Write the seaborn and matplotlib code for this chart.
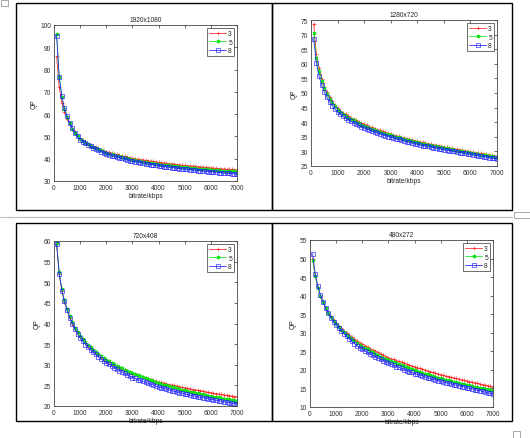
import numpy as np
import pandas as pd
import matplotlib
matplotlib.use("Agg")
import matplotlib.pyplot as plt
import seaborn as sns
from matplotlib.patches import Rectangle

# x grid: one sample every 100 kbps
bitrate = np.arange(100, 7001, 100)
levels = ["3", "5", "8"]

# 1920x1080
hd1080_3 = [86.0, 72.0, 65.0, 61.0, 58.0, 55.6, 53.5, 51.8, 50.3, 49.0,
            48.2, 47.5, 46.8, 46.2, 45.6, 45.1, 44.6, 44.1, 43.6, 43.2,
            42.9, 42.5, 42.2, 41.9, 41.6, 41.3, 41.0, 40.8, 40.5, 40.2,
            40.0, 39.8, 39.6, 39.5, 39.3, 39.1, 38.9, 38.8, 38.6, 38.4,
            38.3, 38.1, 38.0, 37.8, 37.7, 37.6, 37.4, 37.3, 37.1, 37.0,
            36.9, 36.8, 36.7, 36.6, 36.4, 36.3, 36.2, 36.1, 36.0, 35.9,
            35.8, 35.7, 35.6, 35.5, 35.4, 35.3, 35.3, 35.2, 35.1, 35.0]
hd1080_5 = [96.0, 76.5, 67.5, 62.3, 58.8, 55.9, 53.5, 51.6, 50.1, 48.8,
            48.0, 47.2, 46.5, 45.8, 45.2, 44.7, 44.2, 43.7, 43.2, 42.7,
            42.3, 42.0, 41.6, 41.3, 41.0, 40.7, 40.4, 40.1, 39.8, 39.5,
            39.3, 39.1, 38.9, 38.7, 38.5, 38.3, 38.2, 38.0, 37.8, 37.6,
            37.4, 37.3, 37.2, 37.0, 36.9, 36.7, 36.6, 36.5, 36.3, 36.2,
            36.1, 36.0, 35.9, 35.8, 35.6, 35.5, 35.4, 35.3, 35.2, 35.1,
            35.0, 34.9, 34.8, 34.7, 34.6, 34.5, 34.5, 34.4, 34.3, 34.2]
hd1080_8 = [95.2, 76.8, 68.0, 62.6, 59.0, 56.0, 53.6, 51.6, 50.0, 48.6,
            47.7, 46.9, 46.2, 45.5, 44.9, 44.3, 43.7, 43.2, 42.7, 42.2,
            41.8, 41.4, 41.1, 40.7, 40.4, 40.1, 39.8, 39.4, 39.1, 38.8,
            38.6, 38.4, 38.2, 38.0, 37.8, 37.6, 37.4, 37.2, 37.0, 36.8,
            36.6, 36.5, 36.3, 36.2, 36.0, 35.9, 35.7, 35.6, 35.4, 35.3,
            35.2, 35.1, 34.9, 34.8, 34.7, 34.6, 34.5, 34.3, 34.2, 34.1,
            34.0, 33.9, 33.8, 33.7, 33.6, 33.5, 33.4, 33.3, 33.2, 33.1]

# 1280x720
hd720_3 = [73.6, 63.5, 58.5, 54.8, 52.2, 50.2, 48.5, 47.1, 45.9, 44.8,
           44.0, 43.3, 42.7, 42.1, 41.6, 41.1, 40.6, 40.2, 39.7, 39.3,
           38.9, 38.5, 38.2, 37.8, 37.5, 37.2, 36.9, 36.5, 36.2, 35.9,
           35.7, 35.4, 35.2, 34.9, 34.7, 34.4, 34.2, 34.0, 33.7, 33.5,
           33.3, 33.1, 32.9, 32.7, 32.5, 32.3, 32.2, 32.0, 31.8, 31.6,
           31.4, 31.3, 31.1, 30.9, 30.7, 30.6, 30.4, 30.2, 30.1, 29.9,
           29.7, 29.6, 29.4, 29.3, 29.1, 29.0, 28.8, 28.7, 28.5, 28.4]
hd720_5 = [70.7, 62.0, 57.5, 54.2, 51.6, 49.6, 48.0, 46.6, 45.4, 44.3,
           43.5, 42.8, 42.2, 41.6, 41.1, 40.6, 40.1, 39.7, 39.2, 38.8,
           38.4, 38.1, 37.7, 37.4, 37.1, 36.7, 36.4, 36.1, 35.8, 35.5,
           35.3, 35.0, 34.8, 34.5, 34.3, 34.0, 33.8, 33.6, 33.3, 33.1,
           32.9, 32.7, 32.5, 32.3, 32.1, 31.9, 31.8, 31.6, 31.4, 31.2,
           31.0, 30.9, 30.7, 30.5, 30.3, 30.2, 30.0, 29.8, 29.7, 29.5,
           29.3, 29.2, 29.0, 28.9, 28.7, 28.6, 28.4, 28.3, 28.1, 28.0]
hd720_8 = [68.6, 60.4, 55.8, 52.7, 50.3, 48.5, 46.9, 45.6, 44.5, 43.5,
           42.7, 42.0, 41.4, 40.8, 40.3, 39.8, 39.3, 38.9, 38.4, 38.0,
           37.6, 37.3, 36.9, 36.6, 36.3, 36.0, 35.7, 35.4, 35.1, 34.8,
           34.6, 34.3, 34.1, 33.8, 33.6, 33.3, 33.1, 32.9, 32.6, 32.4,
           32.2, 32.0, 31.8, 31.7, 31.5, 31.3, 31.1, 30.9, 30.8, 30.6,
           30.4, 30.3, 30.1, 30.0, 29.8, 29.6, 29.5, 29.3, 29.2, 29.0,
           28.8, 28.7, 28.5, 28.4, 28.2, 28.0, 27.9, 27.7, 27.6, 27.4]

# 720x408
sd408_3 = [59.3, 52.0, 47.9, 45.2, 43.2, 41.4, 39.9, 38.6, 37.6, 36.8,
           36.0, 35.3, 34.6, 34.0, 33.4, 32.9, 32.4, 31.9, 31.4, 31.0,
           30.6, 30.3, 29.9, 29.6, 29.3, 29.0, 28.7, 28.4, 28.1, 27.8,
           27.6, 27.4, 27.2, 27.0, 26.8, 26.6, 26.4, 26.2, 26.0, 25.8,
           25.7, 25.5, 25.4, 25.2, 25.1, 25.0, 24.8, 24.7, 24.5, 24.4,
           24.3, 24.2, 24.0, 23.9, 23.8, 23.7, 23.6, 23.4, 23.3, 23.2,
           23.1, 23.0, 22.9, 22.8, 22.7, 22.6, 22.5, 22.4, 22.3, 22.2]
sd408_5 = [59.6, 52.4, 48.3, 45.6, 43.6, 41.8, 40.3, 39.0, 37.9, 37.0,
           36.2, 35.5, 34.8, 34.2, 33.6, 33.1, 32.6, 32.1, 31.6, 31.2,
           30.8, 30.5, 30.1, 29.8, 29.5, 29.1, 28.8, 28.5, 28.2, 27.9,
           27.7, 27.4, 27.2, 27.0, 26.7, 26.5, 26.3, 26.1, 25.8, 25.6,
           25.4, 25.2, 25.0, 24.9, 24.7, 24.5, 24.3, 24.2, 24.0, 23.8,
           23.7, 23.5, 23.4, 23.2, 23.1, 23.0, 22.8, 22.7, 22.5, 22.4,
           22.3, 22.2, 22.1, 22.0, 21.8, 21.7, 21.6, 21.5, 21.4, 21.3]
sd408_8 = [59.2, 52.1, 48.0, 45.4, 43.3, 41.4, 40.0, 38.7, 37.5, 36.5,
           35.7, 34.9, 34.2, 33.6, 33.0, 32.5, 31.9, 31.4, 31.0, 30.5,
           30.1, 29.7, 29.3, 29.0, 28.6, 28.3, 27.9, 27.6, 27.2, 26.9,
           26.7, 26.4, 26.2, 26.0, 25.7, 25.5, 25.3, 25.1, 24.8, 24.6,
           24.4, 24.3, 24.1, 23.9, 23.7, 23.6, 23.4, 23.2, 23.1, 22.9,
           22.8, 22.6, 22.5, 22.4, 22.2, 22.1, 22.0, 21.9, 21.7, 21.6,
           21.5, 21.4, 21.3, 21.2, 21.0, 20.9, 20.8, 20.7, 20.6, 20.5]

# 480x272
sd272_3 = [50.0, 45.5, 42.3, 40.0, 38.3, 36.7, 35.4, 34.3, 33.4, 32.7,
           31.9, 31.2, 30.5, 29.9, 29.3, 28.8, 28.3, 27.8, 27.3, 26.9,
           26.5, 26.1, 25.7, 25.4, 25.0, 24.7, 24.3, 24.0, 23.6, 23.3,
           23.0, 22.8, 22.5, 22.3, 22.0, 21.8, 21.5, 21.3, 21.0, 20.8,
           20.6, 20.4, 20.2, 19.9, 19.7, 19.5, 19.3, 19.1, 18.9, 18.7,
           18.5, 18.3, 18.2, 18.0, 17.8, 17.7, 17.5, 17.3, 17.2, 17.0,
           16.8, 16.7, 16.5, 16.4, 16.2, 16.0, 15.9, 15.7, 15.6, 15.4]
sd272_5 = [49.5, 45.3, 42.2, 39.9, 38.2, 36.6, 35.3, 34.2, 33.2, 32.4,
           31.5, 30.8, 30.1, 29.4, 28.8, 28.3, 27.8, 27.2, 26.8, 26.3,
           25.9, 25.5, 25.1, 24.7, 24.3, 24.0, 23.6, 23.3, 22.9, 22.6,
           22.3, 22.1, 21.8, 21.5, 21.2, 21.0, 20.7, 20.4, 20.2, 19.9,
           19.7, 19.4, 19.2, 19.0, 18.8, 18.6, 18.3, 18.1, 17.9, 17.7,
           17.5, 17.3, 17.2, 17.0, 16.8, 16.7, 16.5, 16.3, 16.2, 16.0,
           15.8, 15.7, 15.5, 15.4, 15.2, 15.1, 14.9, 14.8, 14.6, 14.5]
sd272_8 = [51.3, 45.9, 42.6, 40.1, 38.4, 36.6, 35.3, 34.1, 33.0, 32.2,
           31.3, 30.4, 29.7, 29.0, 28.3, 27.7, 27.1, 26.5, 26.0, 25.5,
           25.1, 24.7, 24.3, 23.9, 23.5, 23.2, 22.8, 22.5, 22.1, 21.8,
           21.5, 21.2, 20.9, 20.7, 20.4, 20.1, 19.8, 19.5, 19.3, 19.0,
           18.8, 18.6, 18.4, 18.1, 17.9, 17.7, 17.5, 17.3, 17.1, 16.9,
           16.7, 16.5, 16.4, 16.2, 16.0, 15.9, 15.7, 15.5, 15.4, 15.2,
           15.0, 14.9, 14.7, 14.5, 14.4, 14.2, 14.0, 13.8, 13.7, 13.5]

titles = ["1920x1080", "1280x720", "720x408", "480x272"]
series = [(hd1080_3, hd1080_5, hd1080_8), (hd720_3, hd720_5, hd720_8),
          (sd408_3, sd408_5, sd408_8), (sd272_3, sd272_5, sd272_8)]
ylims = [(30, 100), (25, 75), (20, 60), (10, 55)]
ysteps = [10, 5, 5, 5]

W, H = 530, 439
# axes rectangles in pixels: left, top, right, bottom
axes_px = [(54, 26, 237, 182), (311, 21, 497, 167),
           (54, 242, 237, 407), (310, 241, 493, 408)]

colors = {"3": "#ff2020", "5": "#10e010", "8": "#2020ff"}
markers = {"3": "+", "5": (6, 2, 0), "8": "s"}
msize = {"3": 3.5, "5": 2.8, "8": 2.8}

sns.set_theme(style="white")
plt.rcParams["font.family"] = ["Liberation Sans", "DejaVu Sans"]
fs = 4.8

fig = plt.figure(figsize=(W / 100, H / 100), dpi=100)
fig.patch.set_facecolor("white")


def px_rect(l, t, r, b):
    return [l / W, 1 - b / H, (r - l) / W, (b - t) / H]


for (l, t, r, b), title, vals, ylim, ystep in zip(axes_px, titles, series, ylims, ysteps):
    ax = fig.add_axes(px_rect(l, t, r, b))
    for lev, y in zip(levels, vals):
        df = pd.DataFrame({"bitrate": bitrate, "QP": y})
        sns.lineplot(data=df, x="bitrate", y="QP", ax=ax, color=colors[lev],
                     marker=markers[lev], markersize=msize[lev],
                     markeredgecolor=colors[lev], markerfacecolor="none",
                     markeredgewidth=0.45, linewidth=0.55, label=lev)
    ax.set_xlim(0, 7000)
    ax.set_ylim(*ylim)
    ax.set_xticks(range(0, 7001, 1000))
    ax.set_yticks(range(ylim[0], ylim[1] + 1, ystep))
    ax.tick_params(direction="in", top=True, right=True, labelsize=fs,
                   length=2.5, width=0.5, pad=2, colors="#333333")
    for s in ax.spines.values():
        s.set_color("#444444")
        s.set_linewidth(0.6)
    ax.set_title(title, fontsize=fs, pad=3)
    ax.set_xlabel("bitrate/kbps", fontsize=fs, labelpad=1)
    ax.set_ylabel("QP", fontsize=fs, labelpad=2)
    leg = ax.legend(loc="upper right", fontsize=fs, frameon=True, fancybox=False,
                    handlelength=2.6, borderpad=0.25, labelspacing=0.25,
                    handletextpad=0.3, borderaxespad=0.5)
    leg.get_frame().set_edgecolor("black")
    leg.get_frame().set_linewidth(0.5)

# document table cell borders
for l, t, r, b in [(16, 4, 272, 211), (272, 4, 512, 211),
                   (16, 224, 272, 422), (272, 224, 512, 422)]:
    fig.add_artist(Rectangle((l / W, 1 - b / H), (r - l) / W, (b - t) / H,
                             transform=fig.transFigure, fill=False,
                             edgecolor="black", linewidth=1.0))
fig.add_artist(plt.Line2D([0, 512 / W], [1 - 218 / H, 1 - 218 / H],
                          transform=fig.transFigure, color="#bbbbbb", linewidth=0.8))
for l, t, r, b in [(514, 213, 530, 219), (513, 432, 520, 439), (1, 1, 8, 7)]:
    fig.add_artist(Rectangle((l / W, 1 - b / H), (r - l) / W, (b - t) / H,
                             transform=fig.transFigure, fill=False,
                             edgecolor="#999999", linewidth=0.6))

fig.savefig("out.png", dpi=100)
